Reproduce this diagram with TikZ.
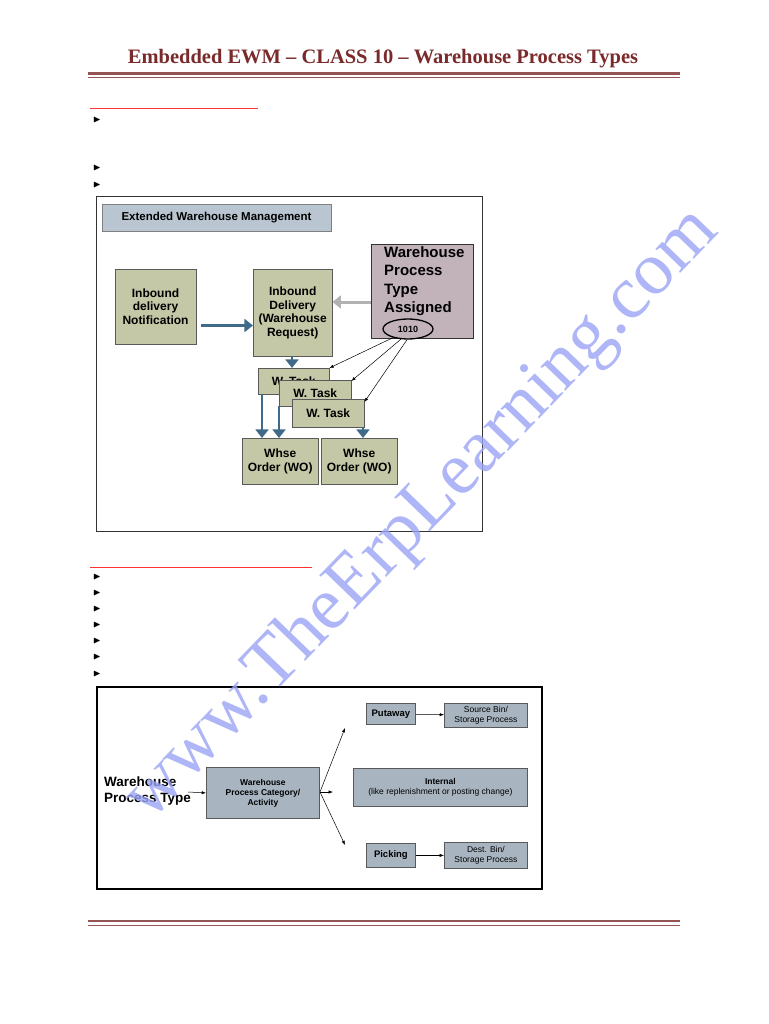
\documentclass[tikz,border=0pt]{standalone}
\usepackage{amssymb}
\usepackage{fontspec}
\setmainfont{Liberation Serif}
\setsansfont{Liberation Sans}
\usepackage{tikz}
\usetikzlibrary{arrows.meta,positioning,fit,shapes.geometric}
\usepackage{xcolor}
\definecolor{maroon}{HTML}{7A2A2A}
\definecolor{olivebox}{HTML}{C4C8A6}
\definecolor{mauvebox}{HTML}{C2B3BB}
\definecolor{steelbox}{HTML}{A8B5C1}
\definecolor{headbox}{HTML}{B9C6D2}
\definecolor{flowblue}{HTML}{3F6A8A}
\definecolor{markblue}{HTML}{9AA4F5}
\tikzset{
  ewm/.style={rectangle,draw=gray!70!black,fill=olivebox,font=\sffamily\bfseries\fontsize{12}{13.5}\selectfont,align=center,inner sep=1pt},
  wpc/.style={rectangle,draw=gray!70!black,thick,fill=steelbox,font=\sffamily\fontsize{8.5}{10}\selectfont,align=center,inner sep=1pt},
  bigarrow/.style={-{Triangle[length=3mm,width=4.5mm]},line width=2.5pt,flowblue},
  pointer/.style={-{Latex[length=1.5mm]},line width=0.5pt}
}
\begin{document}
\begin{tikzpicture}[x=1pt,y=-1pt]
	\useasboundingbox (0,0) rectangle (768,1024);
	\fill[white] (0,0) rectangle (768,1024);

	% page header and footer
	\node[font=\bfseries\fontsize{20.5}{24}\selectfont,text=maroon] (title) at (383,59) {Embedded EWM -- CLASS 10 -- Warehouse Process Types};
	\draw[maroon!80,line width=2.5pt] (88,73.5) -- (680,73.5);
	\draw[maroon!80,line width=0.8pt] (88,77.5) -- (680,77.5);
	\draw[maroon!80,line width=2.5pt] (88,921) -- (680,921);
	\draw[maroon!80,line width=0.8pt] (88,925) -- (680,925);

	% empty bullet lists
	\draw[red!80,line width=1pt] (90,109) -- (258,109);
	\draw[red!80,line width=1pt] (90,567) -- (312,567);
	\foreach \y in {120,168,185,577,593,609,625,641,657,674}
		\node[font=\fontsize{10}{10}\selectfont,inner sep=0pt] at (97,\y) {$\blacktriangleright$};

	% first picture
	\draw[gray!40!black,line width=1pt] (96,197) rectangle (482,531);
	\node[rectangle,draw=gray,fill=headbox,minimum width=229pt,minimum height=27pt,font=\sffamily\bfseries\fontsize{11.5}{13}\selectfont] (ewmHead) at (216.5,217.5) {Extended Warehouse Management};
	\node[ewm,minimum width=81pt,minimum height=75pt] (notif) at (155.5,306.5) {Inbound\\delivery\\Notification};
	\node[ewm,minimum width=79pt,minimum height=87pt,anchor=north west] (delivery) at (253,269) {Inbound\\Delivery\\(Warehouse\\Request)};
	\node[rectangle,draw=gray!40!black,fill=mauvebox,minimum width=102pt,minimum height=94pt,anchor=north west] (wpt) at (371,244) {};
	\node[font=\sffamily\bfseries\fontsize{15}{18.5}\selectfont,align=left,anchor=north west,inner sep=0pt] (wptText) at (384,246) {Warehouse\\Process\\Type\\Assigned};
	\node[ellipse,draw,line width=1.3pt,fill=mauvebox,minimum width=50pt,minimum height=20pt,inner sep=0pt,font=\sffamily\bfseries\fontsize{9}{10}\selectfont] (code) at (408,329) {1010};
	\node[ewm,minimum width=71pt,minimum height=26pt,anchor=north west] (task1) at (258,368) {W. Task};
	\node[ewm,minimum width=72pt,minimum height=26pt,anchor=north west] (task2) at (279,380) {W. Task};
	\node[ewm,minimum width=72pt,minimum height=28pt,anchor=north west] (task3) at (292,399) {W. Task};
	\node[ewm,minimum width=76pt,minimum height=46pt,anchor=north west] (order1) at (242,438) {Whse\\Order (WO)};
	\node[ewm,minimum width=76pt,minimum height=46pt,anchor=north west] (order2) at (321,438) {Whse\\Order (WO)};

	\draw[-{Triangle[length=3mm,width=4.5mm]},line width=3pt,gray!60] (wpt.west|-0,302) -- (delivery.east|-0,302);
	\draw[bigarrow] (notif.east) ++(5,19) coordinate (n1) (n1) -- (delivery.west|-n1);
	\draw[bigarrow] (delivery.south-|292,0) -- (task1.north-|292,0);
	\draw[bigarrow] (task1.south-|262,0) -- (order1.north-|262,0);
	\draw[bigarrow] (task2.south-|279,0) -- (order1.north-|279,0);
	\draw[bigarrow] (task3.south-|363,0) -- (order2.north-|363,0);
	\draw[pointer] (code.210) -- (task1.north east);
	\draw[pointer] (code.235) -- ([yshift=-1pt]task2.north east);
	\draw[pointer] (code.265) -- ([yshift=-3pt]task3.north east);

	% second picture
	\draw[line width=1.3pt] (97,687) rectangle (542,889);
	\node[font=\sffamily\bfseries\fontsize{13.5}{16}\selectfont,align=left,anchor=west,inner sep=0pt] (wptype) at (104,791) {Warehouse\\Process Type};
	\node[wpc,font=\sffamily\bfseries\fontsize{8.5}{10}\selectfont,minimum width=113pt,minimum height=51pt,anchor=north west] (category) at (206,767) {Warehouse\\Process Category/\\Activity};
	\node[wpc,font=\sffamily\bfseries\fontsize{9.5}{11}\selectfont,minimum width=49pt,minimum height=21pt,anchor=north west] (putaway) at (366,703) {Putaway};
	\node[wpc,minimum width=83pt,minimum height=24pt,anchor=north west] (source) at (444,703) {Source Bin/\\Storage Process};
	\node[wpc,minimum width=174pt,minimum height=38pt,anchor=north west] (internal) at (353,768) {\textbf{Internal}\\(like replenishment or posting change)};
	\node[wpc,font=\sffamily\bfseries\fontsize{9.5}{11}\selectfont,minimum width=49pt,minimum height=24pt,anchor=north west] (picking) at (366,843) {Picking};
	\node[wpc,minimum width=83pt,minimum height=26pt,anchor=north west] (dest) at (444,842) {Dest. Bin/\\Storage Process};

	\coordinate (fan) at (320,792);
	\coordinate (upEnd) at (345,728);
	\coordinate (midEnd) at (333,792);
	\coordinate (lowEnd) at (345,845);
	\coordinate (wptEnd) at (188,792);
	\draw[pointer] (wptEnd) -- (category.west);
	\draw[pointer] (fan) -- (upEnd);
	\draw[pointer] (fan) -- (midEnd);
	\draw[pointer] (fan) -- (lowEnd);
	\draw[pointer] (putaway) -- (source);
	\draw[pointer] (picking) -- (dest);

	% watermark
	\node[text=markblue,opacity=0.8,font=\fontsize{75}{75}\selectfont,rotate=46] (mark) at (422,515) {www.TheErpLearning.com};
\end{tikzpicture}
\end{document}
